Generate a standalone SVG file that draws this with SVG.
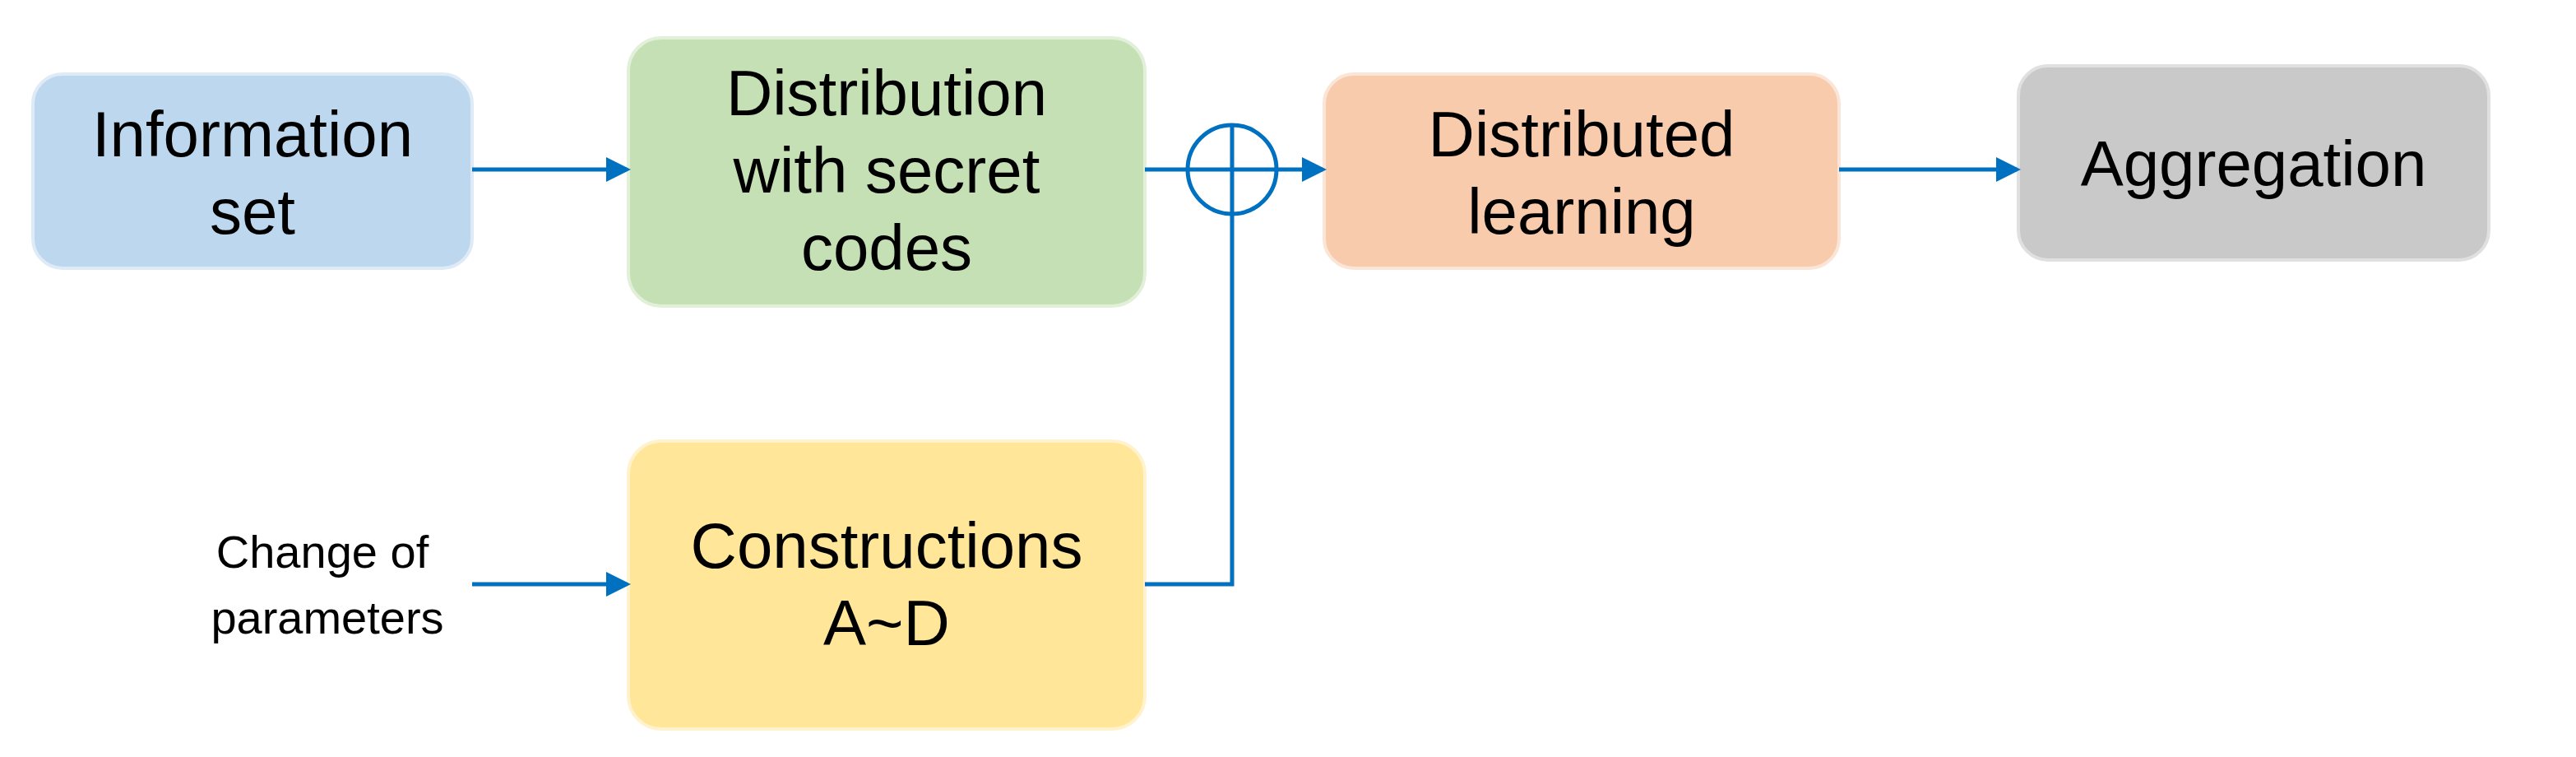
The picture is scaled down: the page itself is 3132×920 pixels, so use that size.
<svg xmlns="http://www.w3.org/2000/svg" width="3132" height="920" viewBox="0 0 3132 920">
<style>
text{font-family:"Liberation Sans",Arial,sans-serif;fill:#000;text-anchor:middle}
.n{font-size:78px}
.s{font-size:56px}
.c{stroke:#0070C0;stroke-width:5;fill:none}
</style>
<defs><marker id="a" markerWidth="6" markerHeight="6" refX="5" refY="3" orient="auto" markerUnits="strokeWidth"><path d="M0,0 L6,3 L0,6 Z" fill="#0070C0"/></marker></defs>
<rect width="3132" height="920" fill="#fff"/>
<g id="info"><rect x="40" y="90" width="534" height="236" rx="36" fill="#BDD7EE" stroke="#DEEBF7" stroke-width="4"/><text class="n" x="307" y="190">Information</text><text class="n" x="307" y="284">set</text></g>
<g id="dist"><rect x="764" y="46" width="628" height="326" rx="40" fill="#C5E0B4" stroke="#E2F0D9" stroke-width="4"/><text class="n" x="1078" y="140">Distribution</text><text class="n" x="1078" y="234">with secret</text><text class="n" x="1078" y="328">codes</text></g>
<g id="learn"><rect x="1610" y="90" width="626" height="236" rx="36" fill="#F8CBAD" stroke="#FBE5D6" stroke-width="4"/><text class="n" x="1923" y="190">Distributed</text><text class="n" x="1923" y="284">learning</text></g>
<g id="agg"><rect x="2454" y="80" width="572" height="236" rx="36" fill="#C9C9C9" stroke="#E0E0E0" stroke-width="4"/><text class="n" x="2740" y="226">Aggregation</text></g>
<g id="cons"><rect x="764" y="536" width="628" height="350" rx="40" fill="#FFE699" stroke="#FFF2CC" stroke-width="4"/><text class="n" x="1078" y="690">Constructions</text><text class="n" x="1078" y="784">A~D</text></g>
<g id="change"><text class="s" x="392" y="690">Change of</text><text class="s" x="398" y="770">parameters</text></g>
<g id="sum"><circle class="c" cx="1498" cy="206" r="54"/><path class="c" d="M1444,206 H1552 M1498,152 V260"/></g>
<g id="connectors">
<path class="c" d="M574,206 H762" marker-end="url(#a)"/>
<path class="c" d="M1392,206 H1444"/>
<path class="c" d="M1552,206 H1608" marker-end="url(#a)"/>
<path class="c" d="M2236,206 H2452" marker-end="url(#a)"/>
<path class="c" d="M574,710 H762" marker-end="url(#a)"/>
<path class="c" d="M1392,710 H1498 V260"/>
</g>
</svg>
